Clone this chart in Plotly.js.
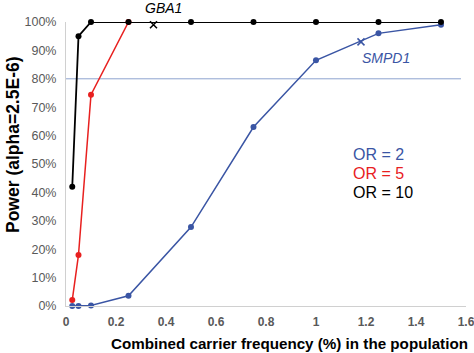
<!DOCTYPE html>
<html><head><meta charset="utf-8">
<script src="https://cdn.plot.ly/plotly-3.0.1.min.js"></script>
<style>html,body{margin:0;padding:0;background:#fff}#chart{width:474px;height:353px}</style>
</head><body><div id="chart"></div>
<script>
const freq = [0.025, 0.05, 0.1, 0.25, 0.5, 0.75, 1.0, 1.25, 1.5];
const powerOR2 = [0.0, 0.0, 0.002, 0.036, 0.278, 0.63, 0.865, 0.96, 0.99];
const freqOR5 = [0.025, 0.05, 0.1, 0.25];
const powerOR5 = [0.021, 0.18, 0.744, 1.0];
const powerOR10 = [0.42, 0.95, 1.0, 1.0, 1.0, 1.0, 1.0, 1.0, 1.0];
const geneX = [0.35, 1.18];
const geneY = [0.99, 0.93];
const geneNames = ['GBA1', 'SMPD1'];
const threshold = 0.8;
const xTicks = [0, 0.2, 0.4, 0.6, 0.8, 1, 1.2, 1.4, 1.6];
const xTickText = ['0', '0.2', '0.4', '0.6', '0.8', '1', '1.2', '1.4', '1.6'];
const legendLabels = ['OR = 2', 'OR = 5', 'OR = 10'];
const xTitle = 'Combined carrier frequency (%) in the population';
const yTitle = 'Power (alpha=2.5E-6)';

const blue = '#3a55a4', red = '#e8201f', black = '#000000';
const traces = [
  {x: [0, 1.58], y: [threshold, threshold], mode: 'lines', line: {color: '#8ea3cf', width: 1}, hoverinfo: 'skip'},
  {x: freq, y: powerOR2, mode: 'lines+markers', line: {color: blue, width: 1.5}, marker: {color: blue, size: 6}, cliponaxis: false},
  {x: freqOR5, y: powerOR5, mode: 'lines+markers', line: {color: red, width: 1.5}, marker: {color: red, size: 6}, cliponaxis: false},
  {x: freq, y: powerOR10, mode: 'lines+markers', line: {color: black, width: 1.8}, marker: {color: black, size: 6}, cliponaxis: false},
  {x: [geneX[0]], y: [geneY[0]], mode: 'markers', marker: {symbol: 'x-thin-open', size: 7, color: black, line: {color: black, width: 1.5}}, cliponaxis: false},
  {x: [geneX[1]], y: [geneY[1]], mode: 'markers', marker: {symbol: 'x-thin-open', size: 7, color: blue, line: {color: blue, width: 1.5}}, cliponaxis: false}
];
const font = 'Liberation Sans, Arial, sans-serif';
const layout = {
  width: 474, height: 353,
  margin: {l: 66, r: 8, t: 22, b: 47},
  showlegend: false,
  paper_bgcolor: '#fff', plot_bgcolor: '#fff',
  font: {family: font},
  xaxis: {
    range: [0, 1.6001], tickvals: xTicks, ticktext: xTickText, ticklabeloverflow: 'allow',
    showgrid: false, zeroline: false, showline: true, linecolor: '#d0d0d0', linewidth: 1,
    ticks: 'outside', ticklen: 5, tickcolor: 'rgba(0,0,0,0)', tickfont: {size: 12, color: '#595959', family: font, weight: 'bold'}
  },
  yaxis: {
    range: [0, 1], dtick: 0.1, tickformat: '.0%',
    showgrid: false, zeroline: false, showline: true, linecolor: '#d0d0d0', linewidth: 1,
    ticks: 'outside', ticklen: 6, tickcolor: 'rgba(0,0,0,0)', tickfont: {size: 12.5, color: '#595959'}
  },
  annotations: [
    {xref: 'paper', yref: 'paper', x: (289 - 66) / 400, y: 0, yshift: -37, text: '<b>' + xTitle + '</b>', showarrow: false, font: {size: 15.2, color: '#000'}, xanchor: 'center', yanchor: 'middle'},
    {xref: 'paper', yref: 'paper', x: 0, xshift: -53, y: 0.5, yshift: 19, text: '<b>' + yTitle + '</b>', textangle: -90, showarrow: false, font: {size: 17.5, color: '#000'}, xanchor: 'center', yanchor: 'middle'},
    {x: 0.39, xref: 'x', yref: 'paper', y: 1, yshift: 14, text: '<i>' + geneNames[0] + '</i>', showarrow: false, font: {size: 14, color: '#000'}, xanchor: 'center', yanchor: 'middle'},
    {x: 1.28, y: 0.873, text: '<i>' + geneNames[1] + '</i>', showarrow: false, font: {size: 14, color: blue}, xanchor: 'center', yanchor: 'middle'},
    {x: 1.139, y: 0.535, text: legendLabels[0], showarrow: false, font: {size: 16, color: blue}, xanchor: 'left', yanchor: 'middle'},
    {x: 1.139, y: 0.465, text: legendLabels[1], showarrow: false, font: {size: 16, color: red}, xanchor: 'left', yanchor: 'middle'},
    {x: 1.139, y: 0.398, text: legendLabels[2], showarrow: false, font: {size: 16, color: black}, xanchor: 'left', yanchor: 'middle'}
  ]
};
Plotly.newPlot('chart', traces, layout, {displayModeBar: false, staticPlot: true});
</script></body></html>
